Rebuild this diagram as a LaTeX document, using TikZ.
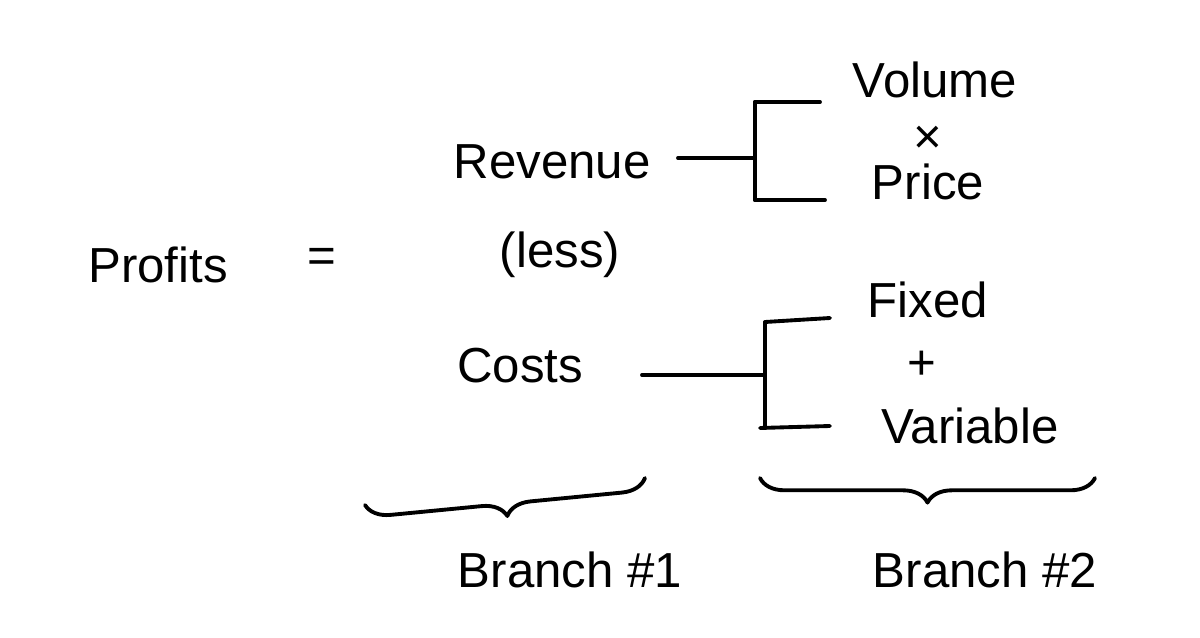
\documentclass[tikz,border=0pt]{standalone}
\usepackage{fontspec}
\setmainfont{Liberation Sans}
\usetikzlibrary{decorations.pathreplacing}
\begin{document}
\begin{tikzpicture}[x=0.02cm,y=-0.02cm,
  lbl/.style={font=\fontsize{28}{32}\selectfont,inner sep=1pt},
  ink/.style={line width=2.2pt,line cap=round,line join=round},
  br/.style={ink,decorate,decoration={brace,mirror,amplitude=14pt}}]
\useasboundingbox (0,0) rectangle (1200,638);
\node[lbl] (profits) at (158,265) {Profits};
\node[lbl] (eq) at (322,260) {=};
\node[lbl] (rev) at (552,162) {Revenue};
\node[lbl] (less) at (560,255) {(less)};
\node[lbl] (costs) at (520,366) {Costs};
\node[lbl] (vol) at (935,80) {Volume};
\node[lbl] (times) at (928,140) {×};
\node[lbl] (price) at (928,182) {Price};
\node[lbl] (fixed) at (928,300) {Fixed};
\node[lbl] (plus) at (922,365) {+};
\node[lbl] (var) at (970,426) {Variable};
\node[lbl] (b1) at (570,570) {Branch \#1};
\node[lbl] (b2) at (985,570) {Branch \#2};
\coordinate (rs) at (678,158);
\coordinate (rj) at (755,158);
\coordinate (rt) at (755,102);
\coordinate (rb) at (755,200);
\coordinate (cs) at (642,375);
\coordinate (cj) at (765,375);
\coordinate (ct) at (765,322);
\coordinate (cb) at (765,428);
\draw[ink] (rs) -- (rj);
\draw[ink] (rt) -- (rb);
\draw[ink] (rt) -- (820,102);
\draw[ink] (rb) -- (825,200);
\draw[ink] (cs) -- (cj);
\draw[ink] (ct) -- (cb);
\draw[ink] (ct) -- (830,318);
\draw[ink] (760,428) -- (830,426);
\coordinate (a1) at (365,505); \coordinate (a2) at (645,478);
\coordinate (c1) at (760,478); \coordinate (c2) at (1095,478);
\draw[br] (a1) -- (a2);
\draw[br] (c1) -- (c2);
\end{tikzpicture}
\end{document}
